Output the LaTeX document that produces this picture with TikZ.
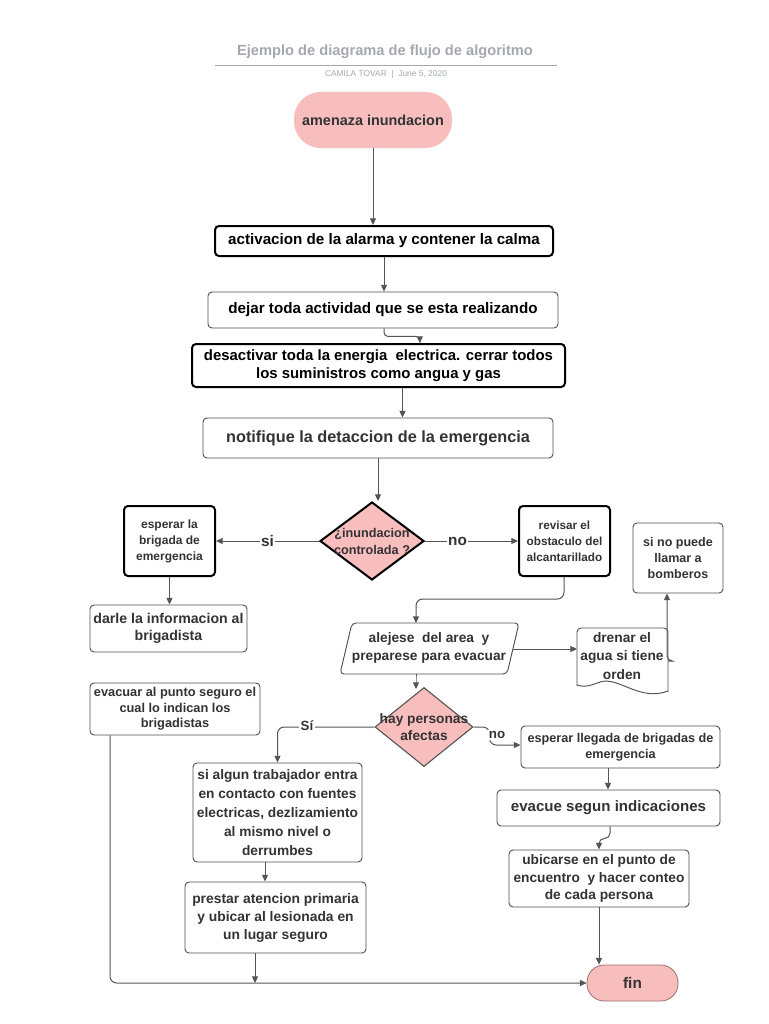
\documentclass[tikz,border=0pt]{standalone}
\usepackage{fontspec}
\setmainfont{Liberation Sans}
\usetikzlibrary{arrows.meta,shapes.geometric}
\definecolor{txt}{HTML}{333333}
\definecolor{bord}{HTML}{505050}
\definecolor{lineg}{HTML}{555555}
\definecolor{pinkf}{HTML}{F8BDBD}
\definecolor{pinkd}{HTML}{9A7070}
\definecolor{ttl}{HTML}{A4A8AF}
\newcommand\mybox[7]{\node[#6, minimum width={(#4-#2)*0.75pt}, minimum height={(#5-#3)*0.75pt}] (#1) at ({(#2+#4)/2},{(#3+#5)/2}) {#7};}
\tikzset{
  basebox/.style={rectangle, rounded corners=3pt, align=center, inner sep=0pt, text=txt},
  thinbox/.style={basebox, draw=bord, line width=0.7pt},
  thickbox/.style={basebox, draw=black, line width=1.5pt},
  fz/.style n args={2}{font=\fontsize{#1}{#2}\selectfont\bfseries},
  arr/.style={draw=lineg, line width=0.75pt, -{Triangle[length=5pt,width=4.5pt]}},
  lbl/.style={fill=white, inner sep=1pt, text=txt},
  pill/.style={rectangle, rounded corners=#1, fill=pinkf, inner sep=0pt, text=txt},
}
\begin{document}
\begin{tikzpicture}[x=0.75pt,y=-0.75pt]
\fill[white] (0,0) rectangle (768,1024);
\useasboundingbox (0,0) rectangle (768,1024);

% title
\node[text=ttl, fz={11}{13}] (title) at (385,52) {Ejemplo de diagrama de flujo de algoritmo};
\draw[ttl, line width=0.7pt] (215,65) -- (557,65);
\node[text=ttl, font=\fontsize{6.3}{7.5}\selectfont] (sub) at (386,74) {CAMILA TOVAR \ | \ June 5, 2020};

% start
\mybox{start}{294}{92}{452}{148}{pill=20pt, fz={10.8}{13}}{amenaza inundacion}

\mybox{b1}{215}{226}{553}{256}{thickbox, fz={11.4}{13.5}, text=black}{activacion de la alarma y contener la calma}
\mybox{b2}{208}{292}{558}{328}{thinbox, fz={11.4}{13.5}, text=black}{dejar toda actividad que se esta realizando}
\mybox{b3}{192}{344}{565}{387}{thickbox, fz={11.2}{13.5}, text=black}{desactivar toda la energia \ electrica. cerrar todos\\los suministros como angua y gas}
\mybox{b4}{203}{418}{553}{458}{thinbox, fz={12.2}{14}}{notifique la detaccion de la emergencia}

% decision 1
\node[diamond, draw=black, line width=1.5pt, fill=pinkf, inner sep=0pt, minimum width={104*0.75pt}, minimum height={78*0.75pt}] (d1) at (372,541) {};
\node[fz={9.5}{12.75}, text=txt, align=center] (d1t) at (372,541) {¿inundacion\\controlada ?};

\mybox{b5}{124}{506}{215}{576}{thickbox, fz={9}{12}}{esperar la\\brigada de\\emergencia}
\mybox{b6}{90}{605}{247}{652}{thinbox, fz={10.6}{12.75}}{darle la informacion al\\brigadista}
\mybox{b7}{519}{506}{610}{576}{thickbox, fz={8.8}{12}}{revisar el\\obstaculo del\\alcantarillado}
\mybox{b8}{633}{523}{723}{593}{thinbox, fz={9.4}{12}}{si no puede\\llamar a\\bomberos}

% parallelogram
\draw[bord, line width=0.7pt, rounded corners=3pt] (352,623) -- (519,623) -- (507,674) -- (340,674) -- cycle;
\node[fz={10.3}{14}, text=txt, align=center] (para) at (429,648) {alejese \ del area \ y\\preparese para evacuar};
\coordinate (parar) at (513,649);
\coordinate (parat) at (416,623);
\coordinate (parab) at (416,674);

% document
\draw[bord, line width=0.7pt, rounded corners=3pt] (577,686) -- (577,628) -- (668,628) -- (668,692);
\draw[bord, line width=0.7pt] (668,691) .. controls (640,702) and (618,676) .. (600,682) .. controls (592,685) and (584,688) .. (577,685);
\node[fz={10.3}{14}, text=txt, align=center] (doc) at (622,656) {drenar el\\agua si tiene\\orden};
\coordinate (docl) at (577,649);
\coordinate (docr) at (668,661);

% decision 2
\node[diamond, draw=bord, line width=0.8pt, fill=pinkf, inner sep=0pt, minimum width={98*0.75pt}, minimum height={79*0.75pt}] (d2) at (424,727) {};
\node[fz={10.3}{12.75}, text=txt, align=center] (d2t) at (424,727) {hay personas\\afectas};

\mybox{b13}{90}{683}{260}{735}{thinbox, fz={9.6}{11.6}}{evacuar al punto seguro el\\cual lo indican los\\brigadistas}
\mybox{b9}{193}{763}{362}{862}{thinbox, fz={10.3}{14.2}}{si algun trabajador entra\\en contacto con fuentes\\electricas, dezlizamiento\\al mismo nivel o\\derrumbes}
\mybox{b14}{185}{882}{366}{953}{thinbox, fz={10.4}{13.5}}{prestar atencion primaria\\y ubicar al lesionada en\\un lugar seguro}
\mybox{b10}{521}{726}{720}{768}{thinbox, fz={9.5}{12}}{esperar llegada de brigadas de\\emergencia}
\mybox{b11}{497}{790}{720}{826}{thinbox, fz={11.3}{13}}{evacue segun indicaciones}
\mybox{b12}{509}{850}{689}{907}{thinbox, fz={10.3}{13}}{ubicarse en el punto de\\encuentro \ y hacer conteo\\de cada persona}

\node[pill=13pt, draw=pinkd, line width=0.6pt, minimum width={91*0.75pt}, minimum height={36*0.75pt}, fz={11.5}{13}] (fin) at (632.5,983) {fin};

% connectors
\draw[arr] (start.south) -- (start.south |- b1.north);
\draw[arr] (b1.south) -- (b1.south |- b2.north);
\draw[arr, rounded corners=3pt] ([xshift=0.75pt]b2.south) -- ++(0,8) -| ([xshift=31pt]b3.north);
\draw[arr] ([xshift=18pt]b3.south) -- ([xshift=18pt]b3.south |- b4.north);
\draw[arr] (b4.south) -- (b4.south |- d1.north);
\draw[arr] (d1.west) -- node[lbl, fz={11.5}{13}, pos=0.5] {si} (b5.east);
\draw[arr] (d1.east) -- node[lbl, fz={11.5}{13}, pos=0.35] {no} (b7.west);
\draw[arr] (b5.south) -- (b5.south |- b6.north);
\draw[arr, rounded corners=5pt] ([xshift={-0.5*0.75pt}]b7.south) -- ++(0,22) -| (parat);
\draw[arr] (parar) -- (docl);
\draw[arr, rounded corners=4pt] (docr) -| ([xshift={-0.75*11pt}]b8.south);
\draw[arr, rounded corners=2pt] (parab) -- ++(0,7) -- ++(0,8);
\draw[arr, rounded corners=5pt] (d2.west) -| (b9.north);
\node[lbl, fz={10}{12}] (lsi) at (307,726) {Sí};
\draw[arr, rounded corners=5pt] (d2.east) -- ++(16,0) -- ++(0,18) -- (b10.west |- 0,745);
\node[lbl, fz={10}{12}] (lno) at (497,735) {no};
\draw[arr] (b10.south -| 608,0) -- (b11.north -| 608,0);
\draw[arr, rounded corners=4pt] (b11.south -| 610,0) -- ++(0,12) -| (b12.north -| 599,0);
\draw[arr] (b12.south -| 599,0) -- (fin.north -| 599,0);
\draw[arr] (b9.south -| 265,0) -- (b14.north -| 265,0);
\draw[arr, rounded corners=5pt] (b13.south -| 110,0) |- (fin.west);
\draw[arr] (b14.south -| 255,0) -- (255,983);
\end{tikzpicture}
\end{document}
